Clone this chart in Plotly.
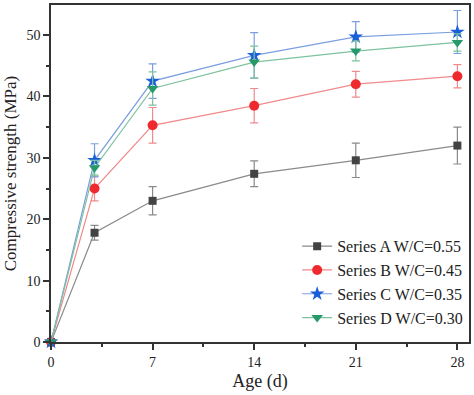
import plotly.graph_objects as go

age = [0, 3, 7, 14, 21, 28]
series_names = ["Series A W/C=0.55", "Series B W/C=0.45", "Series C W/C=0.35", "Series D W/C=0.30"]
a_vals = [0, 17.8, 23.0, 27.4, 29.6, 32.0]
a_err = [0, 1.2, 2.3, 2.1, 2.8, 3.0]
b_vals = [0, 25.0, 35.3, 38.5, 42.0, 43.3]
b_err = [0, 2.0, 2.9, 2.8, 2.1, 1.9]
c_vals = [0, 29.6, 42.5, 46.7, 49.7, 50.5]
c_err = [0, 2.7, 2.8, 3.7, 2.5, 3.5]
d_vals = [0, 28.4, 41.3, 45.6, 47.4, 48.8]
d_err = [0, 1.2, 2.7, 2.6, 1.6, 1.4]

styles = [
    dict(mc="#434343", lc="#8a8a8a", ec="#8a8a8a", sym="square", size=8),
    dict(mc="#ee2a2f", lc="#f08a8c", ec="#f08a8c", sym="circle", size=10),
    dict(mc="#1a5fd8", lc="#7a9ee0", ec="#7a9ee0", sym="star", size=11),
    dict(mc="#26996a", lc="#7cc29e", ec="#7cc29e", sym="triangle-down", size=10),
]

fig = go.Figure()
for name, vals, err, st in zip(series_names, [a_vals, b_vals, c_vals, d_vals],
                               [a_err, b_err, c_err, d_err], styles):
    fig.add_trace(go.Scatter(
        x=age, y=vals, name=name, mode="lines+markers",
        line=dict(color=st["lc"], width=1.2),
        marker=dict(symbol=st["sym"], size=st["size"], color=st["mc"], line=dict(width=0)),
        error_y=dict(type="data", array=err, visible=True, color=st["ec"], thickness=1.2, width=4),
        cliponaxis=False,
    ))

font_fam = "Liberation Serif, Times New Roman, serif"
fig.update_layout(
    width=474, height=395,
    margin=dict(l=51, r=5, t=3, b=53),
    paper_bgcolor="white", plot_bgcolor="white",
    font=dict(family=font_fam, size=14, color="#222"),
    showlegend=True,
    legend=dict(x=0.998, y=0.02, xanchor="right", yanchor="bottom",
                bgcolor="rgba(0,0,0,0)", borderwidth=0,
                font=dict(family=font_fam, size=16, color="#222"),
                tracegroupgap=0, itemwidth=30),
    xaxis=dict(range=[0, 28.8], tickmode="array", tickvals=[0, 7, 14, 21, 28],
               ticks="outside", ticklen=6, tickwidth=1.5, tickcolor="#333",
               showline=True, linecolor="#333", linewidth=1.5, mirror=True,
               showgrid=False, zeroline=False,
               minor=dict(tickvals=[3.5, 10.5, 17.5, 24.5], ticks="outside", ticklen=3, tickwidth=1.5, tickcolor="#333"),
               title=dict(text="Age (d)", font=dict(size=18), standoff=6),
               tickfont=dict(size=14)),
    yaxis=dict(range=[0, 54.9], tickmode="array", tickvals=[0, 10, 20, 30, 40, 50],
               ticks="outside", ticklen=6, tickwidth=1.5, tickcolor="#333",
               showline=True, linecolor="#333", linewidth=1.5, mirror=True,
               showgrid=False, zeroline=False,
               minor=dict(tickvals=[5, 15, 25, 35, 45], ticks="outside", ticklen=3, tickwidth=1.5, tickcolor="#333"),
               title=dict(text="Compressive strength (MPa)", font=dict(size=17), standoff=6),
               tickfont=dict(size=14)),
)

fig.write_html("out.html", config={"displayModeBar": False},
               post_script="document.body.style.margin='0';document.body.style.overflow='hidden';")
